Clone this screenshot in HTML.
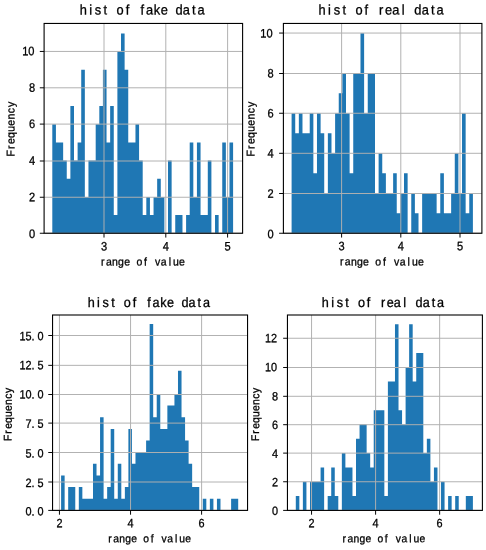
<!DOCTYPE html>
<html lang="en">
<head>
<meta charset="utf-8">
<title>Histograms of fake and real data</title>
<style>
html,body{margin:0;padding:0;background:#fff;}
body{width:486px;height:550px;overflow:hidden;}
svg{display:block;}
svg text{font-family:"Liberation Sans", sans-serif;fill:#000;stroke:#000;stroke-width:0.3px;text-anchor:middle;text-rendering:geometricPrecision;}
</style>
</head>
<body>
<svg width="486" height="550" viewBox="0 0 486 550">
<rect width="486" height="550" fill="#fff"/>
<g>
<path d="M52.3 233.25H55.92V124.23H52.3ZM55.92 233.25H59.53V142.4H55.92ZM59.53 233.25H63.15V142.4H59.53ZM63.15 233.25H66.76V160.57H63.15ZM66.76 233.25H70.38V178.74H66.76ZM70.38 233.25H74V106.06H70.38ZM74 233.25H77.61V160.57H74ZM77.61 233.25H81.23V142.4H77.61ZM81.23 233.25H84.84V69.72H81.23ZM84.84 233.25H88.46V196.91H84.84ZM88.46 233.25H92.08V160.57H88.46ZM92.08 233.25H95.69V160.57H92.08ZM95.69 233.25H99.31V124.23H95.69ZM99.31 233.25H102.92V106.06H99.31ZM102.92 233.25H106.54V69.72H102.92ZM106.54 233.25H110.16V142.4H106.54ZM110.16 233.25H113.77V106.06H110.16ZM113.77 233.25H117.39V215.08H113.77ZM117.39 233.25H121V51.55H117.39ZM121 233.25H124.62V33.38H121ZM124.62 233.25H128.24V69.72H124.62ZM128.24 233.25H131.85V142.4H128.24ZM131.85 233.25H135.47V142.4H131.85ZM135.47 233.25H139.08V124.23H135.47ZM139.08 233.25H142.7V160.57H139.08ZM142.7 233.25H146.32V215.08H142.7ZM146.32 233.25H149.93V196.91H146.32ZM149.93 233.25H153.55V215.08H149.93ZM153.55 233.25H157.16V196.91H153.55ZM157.16 233.25H160.78V178.74H157.16ZM160.78 233.25H164.4V196.91H160.78ZM168.01 233.25H171.63V160.57H168.01ZM175.24 233.25H178.86V215.08H175.24ZM178.86 233.25H182.48V215.08H178.86ZM186.09 233.25H189.71V215.08H186.09ZM189.71 233.25H193.32V142.4H189.71ZM193.32 233.25H196.94V196.91H193.32ZM196.94 233.25H200.56V142.4H196.94ZM200.56 233.25H204.17V215.08H200.56ZM204.17 233.25H207.79V215.08H204.17ZM207.79 233.25H211.4V160.57H207.79ZM215.02 233.25H218.64V215.08H215.02ZM222.25 233.25H225.87V142.4H222.25ZM225.87 233.25H229.48V196.91H225.87ZM229.48 233.25H233.1V142.4H229.48Z" fill="#1f77b4"/>
<path d="M104 23.45V233.25M165.8 23.45V233.25M227.6 23.45V233.25M44.1 233.25H242.6M44.1 197.25H242.6M44.1 161H242.6M44.1 124.1H242.6M44.1 87.8H242.6M44.1 51.45H242.6" stroke="#b0b0b0" stroke-width="0.98" fill="none"/>
<path d="M104 233.25v4.3M165.8 233.25v4.3M227.6 233.25v4.3M44.1 233.25h-4.3M44.1 197.25h-4.3M44.1 161h-4.3M44.1 124.1h-4.3M44.1 87.8h-4.3M44.1 51.45h-4.3" stroke="#000" stroke-width="0.98" fill="none"/>
<rect x="44.1" y="23.45" width="198.5" height="209.8" fill="none" stroke="#000" stroke-width="1.1"/>
<text transform="matrix(0.93,0.0005,0,1,0,0)" x="89.51 97.43 105.35 113.28 121.2 129.13 137.05 144.98 152.9 160.83 168.75 176.68 184.6 192.53 200.45 208.38 216.3" y="14.42" font-size="13.8">hist of fake data</text>
<text transform="matrix(0.93,0.0005,0,1,0,0)" x="110.48 117.04 123.6 130.16 136.72 143.28 149.84 156.4 162.96 169.52 176.08 182.63 189.19 195.75" y="265.52" font-size="11.3">range of value</text>
<text transform="translate(14.7,0) rotate(-89.95) scale(0.93,1)" x="-164.84 -158.28 -151.72 -145.16 -138.6 -132.04 -125.48 -118.92 -112.37" y="0" font-size="11.3">Frequency</text>
<text transform="matrix(0.9,0.0005,0,1,0,0)" x="115.56" y="250.44" font-size="12.3">3</text>
<text transform="matrix(0.9,0.0005,0,1,0,0)" x="184.22" y="250.41" font-size="12.3">4</text>
<text transform="matrix(0.9,0.0005,0,1,0,0)" x="252.89" y="250.37" font-size="12.3">5</text>
<text transform="matrix(0.9,0.0005,0,1,0,0)" x="35.72" y="237.98" font-size="12.3">0</text>
<text transform="matrix(0.9,0.0005,0,1,0,0)" x="35.72" y="201.13" font-size="12.3">2</text>
<text transform="matrix(0.9,0.0005,0,1,0,0)" x="35.72" y="164.78" font-size="12.3">4</text>
<text transform="matrix(0.9,0.0005,0,1,0,0)" x="35.72" y="127.98" font-size="12.3">6</text>
<text transform="matrix(0.9,0.0005,0,1,0,0)" x="35.72" y="91.63" font-size="12.3">8</text>
<text transform="matrix(0.9,0.0005,0,1,0,0)" x="28.06 34.83" y="55.28" font-size="12.3">10</text>
</g>
<g>
<path d="M291.6 233.25H295.23V113.25H291.6ZM295.23 233.25H298.85V133.25H295.23ZM298.85 233.25H302.48V113.25H298.85ZM302.48 233.25H306.1V133.25H302.48ZM306.1 233.25H309.73V133.25H306.1ZM309.73 233.25H313.36V113.25H309.73ZM313.36 233.25H316.98V173.25H313.36ZM316.98 233.25H320.61V113.25H316.98ZM320.61 233.25H324.23V133.25H320.61ZM324.23 233.25H327.86V193.25H324.23ZM327.86 233.25H331.49V133.25H327.86ZM331.49 233.25H335.11V153.25H331.49ZM335.11 233.25H338.74V113.25H335.11ZM338.74 233.25H342.36V93.25H338.74ZM342.36 233.25H345.99V73.25H342.36ZM345.99 233.25H349.62V113.25H345.99ZM349.62 233.25H353.24V173.25H349.62ZM353.24 233.25H356.87V73.25H353.24ZM356.87 233.25H360.49V73.25H356.87ZM360.49 233.25H364.12V33.25H360.49ZM364.12 233.25H367.75V113.25H364.12ZM367.75 233.25H371.37V73.25H367.75ZM371.37 233.25H375V73.25H371.37ZM375 233.25H378.62V193.25H375ZM378.62 233.25H382.25V153.25H378.62ZM382.25 233.25H385.88V173.25H382.25ZM385.88 233.25H389.5V193.25H385.88ZM389.5 233.25H393.13V193.25H389.5ZM393.13 233.25H396.75V173.25H393.13ZM396.75 233.25H400.38V213.25H396.75ZM400.38 233.25H404.01V193.25H400.38ZM404.01 233.25H407.63V173.25H404.01ZM411.26 233.25H414.88V193.25H411.26ZM414.88 233.25H418.51V213.25H414.88ZM422.14 233.25H425.76V193.25H422.14ZM425.76 233.25H429.39V193.25H425.76ZM429.39 233.25H433.01V193.25H429.39ZM433.01 233.25H436.64V193.25H433.01ZM436.64 233.25H440.27V213.25H436.64ZM440.27 233.25H443.89V173.25H440.27ZM443.89 233.25H447.52V213.25H443.89ZM447.52 233.25H451.14V213.25H447.52ZM451.14 233.25H454.77V193.25H451.14ZM454.77 233.25H458.4V153.25H454.77ZM458.4 233.25H462.02V193.25H458.4ZM462.02 233.25H465.65V113.25H462.02ZM465.65 233.25H469.27V213.25H465.65ZM469.27 233.25H472.9V193.25H469.27Z" fill="#1f77b4"/>
<path d="M341.6 23.45V233.25M400.8 23.45V233.25M460 23.45V233.25M283.4 233.25H481.9M283.4 193.5H481.9M283.4 153.3H481.9M283.4 113.25H481.9M283.4 73.5H481.9M283.4 33.05H481.9" stroke="#b0b0b0" stroke-width="0.98" fill="none"/>
<path d="M341.6 233.25v4.3M400.8 233.25v4.3M460 233.25v4.3M283.4 233.25h-4.3M283.4 193.5h-4.3M283.4 153.3h-4.3M283.4 113.25h-4.3M283.4 73.5h-4.3M283.4 33.05h-4.3" stroke="#000" stroke-width="0.98" fill="none"/>
<rect x="283.4" y="23.45" width="198.5" height="209.8" fill="none" stroke="#000" stroke-width="1.1"/>
<text transform="matrix(0.93,0.0005,0,1,0,0)" x="346.39 354.31 362.24 370.16 378.09 386.01 393.94 401.86 409.78 417.71 425.63 433.56 441.48 449.41 457.33 465.26 473.18" y="14.3" font-size="13.8">hist of real data</text>
<text transform="matrix(0.93,0.0005,0,1,0,0)" x="367.37 373.92 380.48 387.04 393.6 400.16 406.72 413.28 419.84 426.4 432.96 439.52 446.08 452.63" y="265.19" font-size="11.3">range of value</text>
<text transform="translate(254.6,0) rotate(-89.95) scale(0.93,1)" x="-164.84 -158.28 -151.72 -145.16 -138.6 -132.04 -125.48 -118.92 -112.37" y="0" font-size="11.3">Frequency</text>
<text transform="matrix(0.9,0.0005,0,1,0,0)" x="379.56" y="250.11" font-size="12.3">3</text>
<text transform="matrix(0.9,0.0005,0,1,0,0)" x="445.33" y="250.08" font-size="12.3">4</text>
<text transform="matrix(0.9,0.0005,0,1,0,0)" x="511.11" y="250.04" font-size="12.3">5</text>
<text transform="matrix(0.9,0.0005,0,1,0,0)" x="300.67" y="238.15" font-size="12.3">0</text>
<text transform="matrix(0.9,0.0005,0,1,0,0)" x="300.67" y="197.65" font-size="12.3">2</text>
<text transform="matrix(0.9,0.0005,0,1,0,0)" x="300.67" y="157.45" font-size="12.3">4</text>
<text transform="matrix(0.9,0.0005,0,1,0,0)" x="300.67" y="117.45" font-size="12.3">6</text>
<text transform="matrix(0.9,0.0005,0,1,0,0)" x="300.67" y="77.45" font-size="12.3">8</text>
<text transform="matrix(0.9,0.0005,0,1,0,0)" x="292.67 299.44" y="37.45" font-size="12.3">10</text>
</g>
<g>
<path d="M61.1 510.4H64.64V475.46H61.1ZM68.18 510.4H71.73V487.11H68.18ZM71.73 510.4H75.27V487.11H71.73ZM78.81 510.4H82.35V487.11H78.81ZM82.35 510.4H85.89V498.75H82.35ZM85.89 510.4H89.44V498.75H85.89ZM89.44 510.4H92.98V498.75H89.44ZM92.98 510.4H96.52V463.82H92.98ZM96.52 510.4H100.06V475.46H96.52ZM100.06 510.4H103.6V417.24H100.06ZM103.6 510.4H107.15V498.75H103.6ZM107.15 510.4H110.69V487.11H107.15ZM110.69 510.4H114.23V428.88H110.69ZM114.23 510.4H117.77V498.75H114.23ZM117.77 510.4H121.31V463.82H117.77ZM121.31 510.4H124.86V498.75H121.31ZM124.86 510.4H128.4V487.11H124.86ZM128.4 510.4H131.94V428.88H128.4ZM131.94 510.4H135.48V463.82H131.94ZM135.48 510.4H139.02V452.17H135.48ZM139.02 510.4H142.57V452.17H139.02ZM142.57 510.4H146.11V452.17H142.57ZM146.11 510.4H149.65V440.53H146.11ZM149.65 510.4H153.19V324.08H149.65ZM153.19 510.4H156.73V417.24H153.19ZM156.73 510.4H160.28V393.95H156.73ZM160.28 510.4H163.82V428.88H160.28ZM163.82 510.4H167.36V428.88H163.82ZM167.36 510.4H170.9V405.59H167.36ZM170.9 510.4H174.44V405.59H170.9ZM174.44 510.4H177.99V393.95H174.44ZM177.99 510.4H181.53V370.66H177.99ZM181.53 510.4H185.07V417.24H181.53ZM185.07 510.4H188.61V440.53H185.07ZM188.61 510.4H192.15V463.82H188.61ZM192.15 510.4H195.7V487.11H192.15ZM195.7 510.4H199.24V487.11H195.7ZM202.78 510.4H206.32V498.75H202.78ZM209.86 510.4H213.41V498.75H209.86ZM216.95 510.4H220.49V498.75H216.95ZM231.12 510.4H234.66V498.75H231.12ZM234.66 510.4H238.2V498.75H234.66Z" fill="#1f77b4"/>
<path d="M59.45 315V510.4M130.55 315V510.4M201.6 315V510.4M52.55 510.4H247.55M52.55 482H247.55M52.55 452.5H247.55M52.55 423.1H247.55M52.55 394.5H247.55M52.55 365.35H247.55M52.55 335.5H247.55" stroke="#b0b0b0" stroke-width="0.98" fill="none"/>
<path d="M59.45 510.4v4.3M130.55 510.4v4.3M201.6 510.4v4.3M52.55 510.4h-4.3M52.55 482h-4.3M52.55 452.5h-4.3M52.55 423.1h-4.3M52.55 394.5h-4.3M52.55 365.35h-4.3M52.55 335.5h-4.3" stroke="#000" stroke-width="0.98" fill="none"/>
<rect x="52.55" y="315" width="195" height="195.4" fill="none" stroke="#000" stroke-width="1.1"/>
<text transform="matrix(0.93,0.0005,0,1,0,0)" x="98.17 105.91 113.66 121.4 129.14 136.88 144.62 152.37 160.11 167.85 175.59 183.33 191.08 198.82 206.56 214.3 222.04" y="306.92" font-size="13.6">hist of fake data</text>
<text transform="matrix(0.93,0.0005,0,1,0,0)" x="118.39 124.84 131.29 137.74 144.19 150.65 157.1 163.55 170 176.45 182.9 189.35 195.81 202.26" y="542.12" font-size="11.1">range of value</text>
<text transform="translate(12,0) rotate(-89.95) scale(0.93,1)" x="-470.86 -464.46 -458.06 -451.67 -445.27 -438.87 -432.47 -426.08 -419.68" y="0" font-size="11.1">Frequency</text>
<text transform="matrix(0.9,0.0005,0,1,0,0)" x="66.06" y="527.27" font-size="12.1">2</text>
<text transform="matrix(0.9,0.0005,0,1,0,0)" x="145.06" y="527.23" font-size="12.1">4</text>
<text transform="matrix(0.9,0.0005,0,1,0,0)" x="224" y="527.19" font-size="12.1">6</text>
<text transform="matrix(0.9,0.0005,0,1,0,0)" x="31.78 36.67 45.11" y="515.48" font-size="12.1">0.0</text>
<text transform="matrix(0.9,0.0005,0,1,0,0)" x="31.78 36.67 45.11" y="486.88" font-size="12.1">2.5</text>
<text transform="matrix(0.9,0.0005,0,1,0,0)" x="31.78 36.67 45.11" y="457.58" font-size="12.1">5.0</text>
<text transform="matrix(0.9,0.0005,0,1,0,0)" x="31.78 36.67 45.11" y="427.63" font-size="12.1">7.5</text>
<text transform="matrix(0.9,0.0005,0,1,0,0)" x="25.11 31.78 36.67 45.11" y="398.53" font-size="12.1">10.0</text>
<text transform="matrix(0.9,0.0005,0,1,0,0)" x="25.11 31.78 36.67 45.11" y="369.13" font-size="12.1">12.5</text>
<text transform="matrix(0.9,0.0005,0,1,0,0)" x="25.11 31.78 36.67 45.11" y="340.28" font-size="12.1">15.0</text>
</g>
<g>
<path d="M295.8 510.4H299.34V496.08H295.8ZM302.88 510.4H306.43V481.76H302.88ZM309.97 510.4H313.51V481.76H309.97ZM313.51 510.4H317.05V481.76H313.51ZM317.05 510.4H320.59V481.76H317.05ZM320.59 510.4H324.14V467.44H320.59ZM327.68 510.4H331.22V496.08H327.68ZM331.22 510.4H334.76V467.44H331.22ZM334.76 510.4H338.3V496.08H334.76ZM341.85 510.4H345.39V453.12H341.85ZM345.39 510.4H348.93V467.44H345.39ZM348.93 510.4H352.47V467.44H348.93ZM352.47 510.4H356.01V496.08H352.47ZM356.01 510.4H359.56V438.8H356.01ZM359.56 510.4H363.1V424.48H359.56ZM363.1 510.4H366.64V424.48H363.1ZM366.64 510.4H370.18V453.12H366.64ZM370.18 510.4H373.72V467.44H370.18ZM373.72 510.4H377.27V410.16H373.72ZM377.27 510.4H380.81V410.16H377.27ZM380.81 510.4H384.35V410.16H380.81ZM384.35 510.4H387.89V496.08H384.35ZM387.89 510.4H391.43V381.52H387.89ZM391.43 510.4H394.98V381.52H391.43ZM394.98 510.4H398.52V324.24H394.98ZM398.52 510.4H402.06V410.16H398.52ZM402.06 510.4H405.6V424.48H402.06ZM405.6 510.4H409.14V367.2H405.6ZM409.14 510.4H412.69V324.24H409.14ZM412.69 510.4H416.23V381.52H412.69ZM416.23 510.4H419.77V352.88H416.23ZM419.77 510.4H423.31V352.88H419.77ZM423.31 510.4H426.85V453.12H423.31ZM426.85 510.4H430.4V438.8H426.85ZM430.4 510.4H433.94V481.76H430.4ZM433.94 510.4H437.48V467.44H433.94ZM441.02 510.4H444.56V481.76H441.02ZM448.11 510.4H451.65V496.08H448.11ZM455.19 510.4H458.73V496.08H455.19ZM465.82 510.4H469.36V496.08H465.82ZM469.36 510.4H472.9V496.08H469.36Z" fill="#1f77b4"/>
<path d="M311.55 315V510.4M375.6 315V510.4M439.65 315V510.4M287.45 510.4H482.4M287.45 481.76H482.4M287.45 453.12H482.4M287.45 424.7H482.4M287.45 396.3H482.4M287.45 367.5H482.4M287.45 338.25H482.4" stroke="#b0b0b0" stroke-width="0.98" fill="none"/>
<path d="M311.55 510.4v4.3M375.6 510.4v4.3M439.65 510.4v4.3M287.45 510.4h-4.3M287.45 481.76h-4.3M287.45 453.12h-4.3M287.45 424.7h-4.3M287.45 396.3h-4.3M287.45 367.5h-4.3M287.45 338.25h-4.3" stroke="#000" stroke-width="0.98" fill="none"/>
<rect x="287.45" y="315" width="194.95" height="195.4" fill="none" stroke="#000" stroke-width="1.1"/>
<text transform="matrix(0.93,0.0005,0,1,0,0)" x="349.89 357.63 365.38 373.12 380.86 388.6 396.34 404.09 411.83 419.57 427.31 435.05 442.8 450.54 458.28 466.02 473.76" y="306.79" font-size="13.6">hist of real data</text>
<text transform="matrix(0.93,0.0005,0,1,0,0)" x="370.22 376.67 383.12 389.57 396.02 402.47 408.92 415.38 421.83 428.28 434.73 441.18 447.63 454.09" y="541.99" font-size="11.1">range of value</text>
<text transform="translate(259.5,0) rotate(-89.95) scale(0.93,1)" x="-470.86 -464.46 -458.06 -451.67 -445.27 -438.87 -432.47 -426.08 -419.68" y="0" font-size="11.1">Frequency</text>
<text transform="matrix(0.9,0.0005,0,1,0,0)" x="346.17" y="527.13" font-size="12.1">2</text>
<text transform="matrix(0.9,0.0005,0,1,0,0)" x="417.33" y="527.09" font-size="12.1">4</text>
<text transform="matrix(0.9,0.0005,0,1,0,0)" x="488.5" y="527.06" font-size="12.1">6</text>
<text transform="matrix(0.9,0.0005,0,1,0,0)" x="305.61" y="514.85" font-size="12.1">0</text>
<text transform="matrix(0.9,0.0005,0,1,0,0)" x="305.61" y="486.15" font-size="12.1">2</text>
<text transform="matrix(0.9,0.0005,0,1,0,0)" x="305.61" y="457.55" font-size="12.1">4</text>
<text transform="matrix(0.9,0.0005,0,1,0,0)" x="305.61" y="428.95" font-size="12.1">6</text>
<text transform="matrix(0.9,0.0005,0,1,0,0)" x="305.61" y="400.45" font-size="12.1">8</text>
<text transform="matrix(0.9,0.0005,0,1,0,0)" x="297.94 304.61" y="371.2" font-size="12.1">10</text>
<text transform="matrix(0.9,0.0005,0,1,0,0)" x="297.94 304.61" y="342.2" font-size="12.1">12</text>
</g>
</svg>
</body>
</html>
